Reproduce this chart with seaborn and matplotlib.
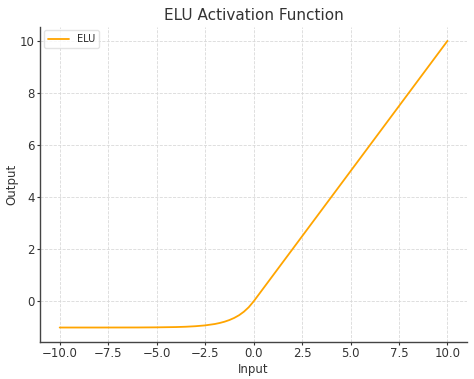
import matplotlib
matplotlib.use("Agg")
import matplotlib.pyplot as plt
import seaborn as sns
import pandas as pd

x_vals = [-10.0, -8.0, -6.0, -5.0, -4.0, -3.5, -3.0, -2.5, -2.0, -1.75, -1.5, -1.25,
          -1.0, -0.75, -0.5, -0.25, 0.0, 2.5, 5.0, 7.5, 10.0]
y_vals = [-1.0, -1.0, -0.998, -0.993, -0.982, -0.97, -0.95, -0.918, -0.865, -0.826,
          -0.777, -0.713, -0.632, -0.528, -0.393, -0.221, 0.0, 2.5, 5.0, 7.5, 10.0]
series_label = "ELU"

sns.set_style("ticks")
plt.rcParams['font.family'] = ['DejaVu Sans']

fig, ax = plt.subplots(figsize=(4.74, 3.79), dpi=100)
df = pd.DataFrame({"Input": x_vals, "Output": y_vals})
sns.lineplot(data=df, x="Input", y="Output", ax=ax, color="#FFA500", linewidth=1.3, label=series_label)

ax.set_title("ELU Activation Function", fontsize=11, color="#333333", pad=5)
ax.set_xlabel("Input", fontsize=8.5, color="#333333", labelpad=2)
ax.set_ylabel("Output", fontsize=8.5, color="#333333", labelpad=1)
ax.set_xticks([-10, -7.5, -5, -2.5, 0, 2.5, 5, 7.5, 10])
ax.set_yticks([0, 2, 4, 6, 8, 10])
ax.tick_params(labelsize=8.5, colors="#333333", length=2.5, pad=1.5, width=0.8)
ax.grid(True, linestyle="--", linewidth=0.6, color="#d9d9d9")
sns.despine(ax=ax)
for s in ["left", "bottom"]:
    ax.spines[s].set_color("#444444")
    ax.spines[s].set_linewidth(1.0)
leg = ax.legend(loc="upper left", fontsize=7, frameon=True, handlelength=2.2,
                borderpad=0.4, borderaxespad=0.4)
leg.get_frame().set_edgecolor("#dddddd")

fig.subplots_adjust(left=0.085, right=0.985, top=0.93, bottom=0.098)
fig.savefig("out.png", dpi=100)
